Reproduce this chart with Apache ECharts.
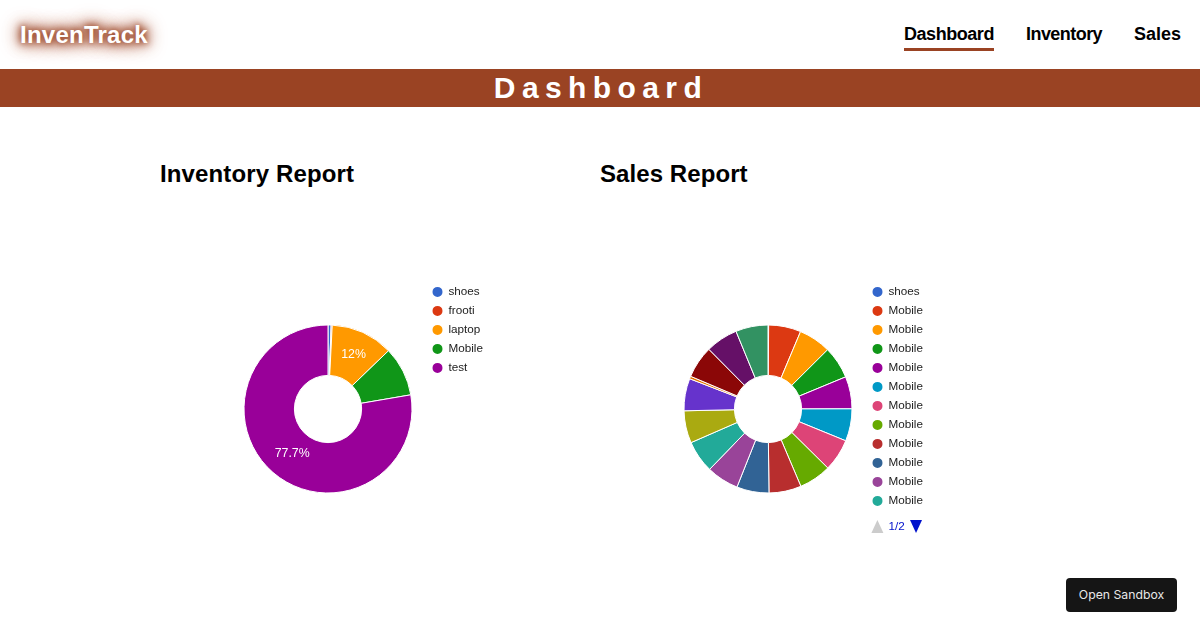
<!DOCTYPE html>
<html><head><meta charset="utf-8">
<script src="https://cdn.jsdelivr.net/npm/echarts@6/dist/echarts.min.js"></script>
<style>
html,body{margin:0;padding:0;background:#fff;width:1200px;height:630px;overflow:hidden;font-family:"Liberation Sans",Arial,sans-serif;color:#000}
.abs{position:absolute;white-space:nowrap}
#logo{left:20px;top:21px;font-size:24px;line-height:28px;font-weight:700;color:#fff;letter-spacing:.25px;text-shadow:0 0 6px #9a4323,0 0 10px #9a4323,0 0 16px #9a4323,0 0 20px #9a4323}
.nav{top:24px;font-size:18px;line-height:21px;font-weight:700}
#under{left:904px;top:48px;width:90px;height:3px;background:#9a4323}
#band{left:0;top:69px;width:1200px;height:38px;background:#9a4323;color:#fff;font-size:30px;line-height:38px;font-weight:700;text-align:center;letter-spacing:6.4px;text-indent:2px}
.h{top:160px;font-size:24px;line-height:28px;font-weight:700}
#c1,#c2{position:absolute;top:200px;width:400px;height:360px}
#c1{left:160px}#c2{left:600px}
#btn{left:1066px;top:578px;width:111px;height:34px;background:#151515;color:#e8e8e8;border-radius:4px;font:12.25px/34px Inter,sans-serif;text-align:center}
</style></head><body>
<div class="abs" id="logo">InvenTrack</div>
<div class="abs nav" style="left:904px;letter-spacing:-.45px">Dashboard</div>
<div class="abs nav" style="left:1026px;letter-spacing:-.55px">Inventory</div>
<div class="abs nav" style="left:1134px">Sales</div>
<div class="abs" id="under"></div>
<div class="abs" id="band">Dashboard</div>
<div class="abs h" style="left:160px;letter-spacing:.13px">Inventory Report</div>
<div class="abs h" style="left:600px;letter-spacing:.08px">Sales Report</div>
<div id="c1"></div><div id="c2"></div>
<div class="abs" id="btn">Open Sandbox</div>
<script>
const palette=['#3366cc','#dc3912','#ff9900','#109618','#990099','#0099c6','#dd4477','#66aa00','#b82e2e','#316395','#994499','#22aa99','#aaaa11','#6633cc','#e67300','#8b0707','#651067','#329262'];
const inventoryNames=['shoes','frooti','laptop','Mobile','test'];
const inventoryValues=[6,2,120,95,777];
const inventoryLabelled=['laptop','test'];
const salesNames=['shoes','Mobile','Mobile','Mobile','Mobile','Mobile','Mobile','Mobile','Mobile','Mobile','Mobile','Mobile','Mobile','Mobile','Mobile','Mobile','Mobile','Mobile'];
const salesValues=[2,100,100,100,100,100,100,100,100,100,100,100,100,100,8,100,100,100];
const FONT='"Liberation Sans",Arial,sans-serif';
const labelNudge={laptop:[0,1.5],test:[4,-3]};
function build(names,values,labelled,legendExtra){
  const data=names.map((n,i)=>({
    name:n+'#'+i,value:values[i],
    itemStyle:{color:palette[i%palette.length]},
    label:{show:labelled.includes(n),offset:labelNudge[n]||[0,0]}
  }));
  return {
    animation:false,
    legend:Object.assign({
      orient:'vertical',left:270.5,top:84.9,padding:0,itemWidth:12,itemHeight:18.6,itemGap:5,
      icon:'circle',selectedMode:false,
      itemStyle:{borderWidth:2,borderColor:'inherit'},
      textStyle:{color:'#222',fontSize:11.7,fontFamily:FONT},
      formatter:n=>n.split('#')[0],
      data:data.map(d=>d.name)
    },legendExtra),
    series:[{
      type:'pie',center:[168,209],radius:[33.6,84],startAngle:90,clockwise:true,
      avoidLabelOverlap:false,silent:true,percentPrecision:1,
      itemStyle:{borderColor:'#fff',borderWidth:1},
      label:{position:'inside',color:'#fff',fontSize:12.35,fontFamily:FONT,
        formatter:p=>(+p.percent.toFixed(1))+'%'},
      labelLine:{show:false},
      data
    }]
  };
}
echarts.init(document.getElementById('c1')).setOption(build(inventoryNames,inventoryValues,inventoryLabelled,{}));
echarts.init(document.getElementById('c2')).setOption(build(salesNames,salesValues,[],{
  type:'scroll',height:248,
  pageButtonPosition:'end',pageButtonItemGap:0,pageButtonGap:6,
  pageIconSize:[12,13],pageIconColor:'#0011cc',pageIconInactiveColor:'#cccccc',
  pageIcons:{vertical:['path://M0 13L6 0L12 13z','path://M0 0L12 0L6 13z']},
  pageTextStyle:{color:'#0011cc',fontSize:11.7,fontFamily:FONT},
  pageFormatter:'{current}/{total}'
}));
</script>
</body></html>
